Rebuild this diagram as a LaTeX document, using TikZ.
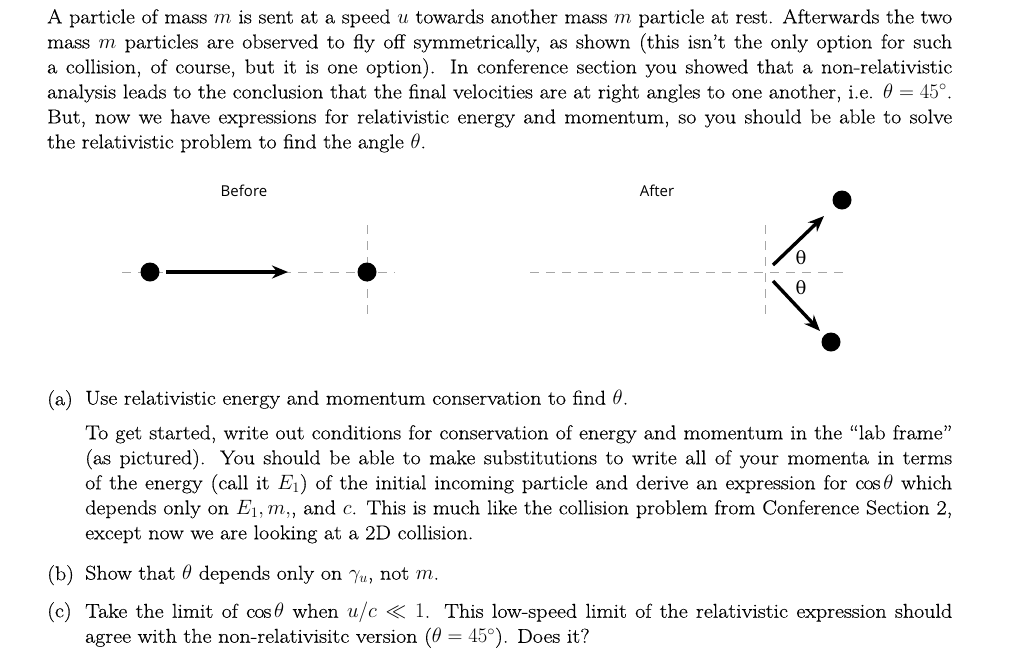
\documentclass[tikz,border=0pt]{standalone}
\usepackage{fontspec}
\usepackage{amssymb}
\usetikzlibrary{arrows.meta}
\setmainfont{Latin Modern Roman}[FakeStretch=1.1,FakeBold=0.4]
\newfontfamily\lab{Open Sans}
\newfontfamily\grk{DejaVu Serif}
\begin{document}
\begin{tikzpicture}[x=1pt,y=-1pt,
  ball/.style={circle,fill=black,inner sep=0pt,minimum size=19pt},
  guide/.style={gray!70,dash pattern=on 9pt off 7pt,line width=1pt},
  vec/.style={-{Stealth[length=16pt,width=13pt]},line width=3.4pt},
  para/.style={anchor=north west,inner sep=0pt,align=justify,font=\fontsize{20}{25}\selectfont}]
\useasboundingbox (0,0) rectangle (1024,665);
\node[para,text width=905pt] (p1) at (47,9) {A particle of mass $m$ is sent at a speed $u$ towards another mass $m$ particle at rest. Afterwards the two\linebreak mass $m$ particles are observed to fly off symmetrically, as shown (this isn't the only option for such\linebreak a collision, of course, but it is one option). In conference section you showed that a non-relativistic\linebreak analysis leads to the conclusion that the final velocities are at right angles to one another, i.e. $\theta=45^\circ$.\linebreak But, now we have expressions for relativistic energy and momentum, so you should be able to solve\linebreak the relativistic problem to find the angle $\theta$.};
\node[font=\lab\fontsize{15}{15}\selectfont] (bl) at (244,191) {Before};
\node[font=\lab\fontsize{15}{15}\selectfont] (al) at (657,191) {After};
\draw[guide] (122,272) -- (395,272);
\draw[guide] (367,225) -- (367,320);
\draw[guide] (530,272) -- (845,272);
\draw[guide] (765,225) -- (765,320);
\node[ball] (b1) at (150,272) {};
\node[ball] (b2) at (367,272) {};
\coordinate (s1) at (166,272);
\coordinate (t1) at (288,272);
\draw[vec] (s1) -- (t1);
\node[ball] (a1) at (842,200) {};
\node[ball] (a2) at (831,342) {};
\coordinate (o1) at (773,265);
\coordinate (e1) at (824,216);
\coordinate (o2) at (773,281);
\coordinate (e2) at (820,331);
\draw[vec] (o1) -- (e1);
\draw[vec] (o2) -- (e2);
\node[font=\grk\fontsize{18}{18}\selectfont] (th1) at (801,258) {θ};
\node[font=\grk\fontsize{18}{18}\selectfont] (th2) at (801,288) {θ};
\node[para] (la) at (47,390) {(a)};
\node[para,text width=867pt] (pa) at (85,390) {Use relativistic energy and momentum conservation to find $\theta$.};
\node[para,text width=867pt] (pb) at (85,425) {To get started, write out conditions for conservation of energy and momentum in the ``lab frame''\linebreak (as pictured). You should be able to make substitutions to write all of your momenta in terms\linebreak of the energy (call it $E_1$) of the initial incoming particle and derive an expression for $\cos\theta$ which\linebreak depends only on $E_1, m,$, and $c$. This is much like the collision problem from Conference Section 2,\linebreak except now we are looking at a 2D collision.};
\node[para] (lb) at (47,565) {(b)};
\node[para,text width=867pt] (pc) at (85,565) {Show that $\theta$ depends only on $\gamma_u$, not $m$.};
\node[para] (lc) at (47,602) {(c)};
\node[para,text width=867pt] (pd) at (85,602) {Take the limit of $\cos\theta$ when $u/c\ll 1$. This low-speed limit of the relativistic expression should\linebreak agree with the non-relativisitc version ($\theta=45^\circ$). Does it?};
\end{tikzpicture}
\end{document}
